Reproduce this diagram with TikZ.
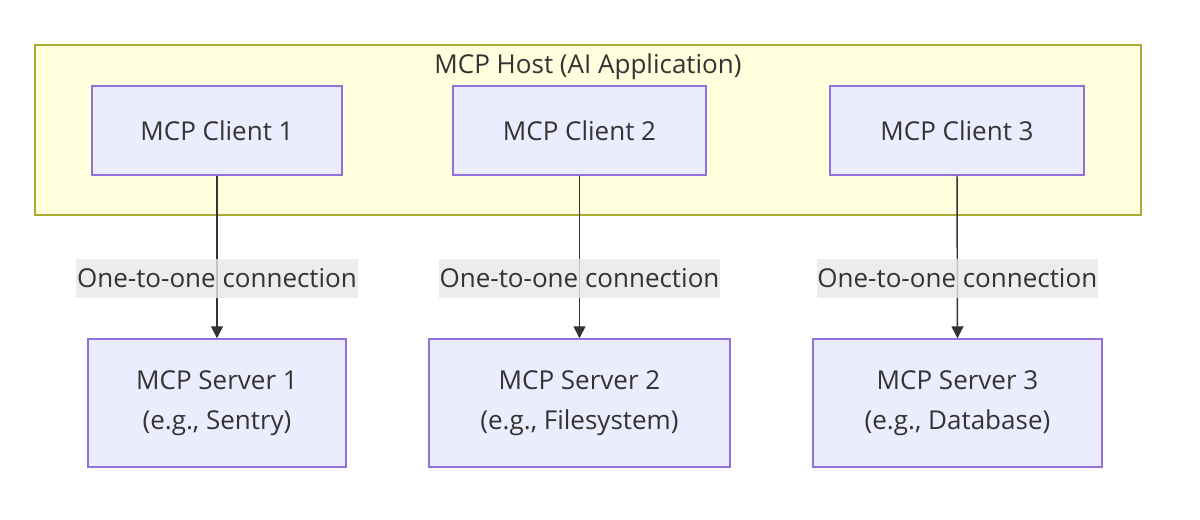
\documentclass[tikz,border=0pt]{standalone}
\usepackage{fontspec}
\setmainfont{Open Sans}
\usetikzlibrary{arrows.meta}
\definecolor{hostfill}{HTML}{FFFFDE}
\definecolor{hostdraw}{HTML}{AAAA33}
\definecolor{nodefill}{HTML}{ECECFF}
\definecolor{nodedraw}{HTML}{9370DB}
\definecolor{txt}{HTML}{333333}
\definecolor{lblfill}{HTML}{E8E8E8}
\tikzset{
  host/.style={draw=hostdraw, fill=hostfill, line width=1.1pt, minimum width=829.5pt, minimum height=127.5pt, inner sep=0pt},
  box/.style={draw=nodedraw, fill=nodefill, line width=1.1pt, text=txt, align=center, inner sep=0pt,
    font=\fontsize{19.5}{30}\selectfont},
  lbl/.style={fill=lblfill, fill opacity=0.8, text opacity=1, text=txt, inner xsep=0.5pt, inner ysep=0pt,
    minimum height=29pt, font=\fontsize{19.5}{22}\selectfont},
  conn/.style={draw=txt, line width=1.1pt, -{Triangle[length=9pt,width=9pt]}},
  titletext/.style={text=txt, font=\fontsize{19.5}{22}\selectfont},
}
\begin{document}
\begin{tikzpicture}[x=0.75pt, y=-0.75pt]
\useasboundingbox[fill=white] (0,0) rectangle (1200,520);
\node[host] (host) at (588,130) {};
\node[titletext] (hosttitle) at (588,67) {MCP Host (AI Application)};
\node[box, minimum width=187.5pt, minimum height=66.75pt] (c1) at (217,130.5) {MCP Client 1};
\node[box, minimum width=189.75pt, minimum height=66.75pt] (c2) at (579.5,130.5) {MCP Client 2};
\node[box, minimum width=190.5pt, minimum height=66.75pt] (c3) at (957,130.5) {MCP Client 3};
\node[box, minimum width=193.5pt, minimum height=96pt] (s1) at (217,403) {MCP Server 1\\(e.g., Sentry)};
\node[box, minimum width=225.75pt, minimum height=96pt] (s2) at (579.5,403) {MCP Server 2\\(e.g., Filesystem)};
\node[box, minimum width=216.75pt, minimum height=96pt] (s3) at (957.5,403) {MCP Server 3\\(e.g., Database)};
\draw[conn] (c1.south) -- node[lbl, pos=0.632] (l1) {One-to-one connection} (s1.north);
\draw[conn] (c2.south) -- node[lbl, pos=0.632] (l2) {One-to-one connection} (s2.north);
\draw[conn] (c3.south) -- node[lbl, pos=0.632] (l3) {One-to-one connection} (s3.north);
\end{tikzpicture}
\end{document}
